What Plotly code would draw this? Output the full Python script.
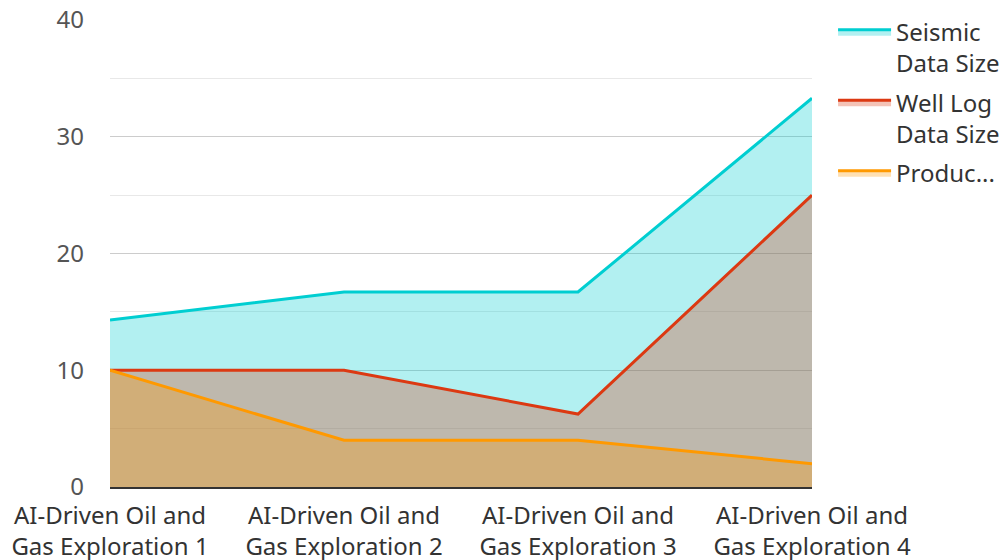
import plotly.graph_objects as go

categories = [
    "AI-Driven Oil and<br>Gas Exploration 1",
    "AI-Driven Oil and<br>Gas Exploration 2",
    "AI-Driven Oil and<br>Gas Exploration 3",
    "AI-Driven Oil and<br>Gas Exploration 4",
]
seismic = [14.3, 16.7, 16.7, 33.3]
well_log = [10, 10, 6.25, 25]
production = [10, 4, 4, 2]

series_names = ["Seismic<br>Data Size", "Well Log<br>Data Size", "Produc..."]
line_colors = ["#00CED1", "#DC3912", "#FF9900"]
fill_colors = ["rgba(0,206,209,0.3)", "rgba(220,57,18,0.3)", "rgba(255,153,0,0.3)"]

x = list(range(len(categories)))
fig = go.Figure()
for i, (name, vals, lc, fc) in enumerate(zip(series_names, [seismic, well_log, production], line_colors, fill_colors)):
    fig.add_trace(go.Scatter(
        x=x, y=vals, name=name, mode="lines", legendgroup=f"g{i}",
        line=dict(color=lc, width=3),
        fill="tozeroy", fillcolor=fc,
    ))

font_family = "Noto Sans"
fig.update_layout(
    width=1007, height=560,
    margin=dict(l=110, r=195, t=20, b=73, autoexpand=False),
    plot_bgcolor="white", paper_bgcolor="white",
    font=dict(family=font_family, size=24, color="#333333"),
    showlegend=True,
    legend=dict(
        x=1.03, y=1.022, xanchor="left", yanchor="top",
        font=dict(size=24, color="#333333"),
        valign="top", itemwidth=53, tracegroupgap=5,
        bgcolor="rgba(0,0,0,0)",
    ),
    xaxis=dict(
        range=[0, 3], tickvals=x, ticktext=categories,
        showgrid=False, zeroline=False, automargin=False,
        showline=True, linecolor="#333333", linewidth=2,
        ticks="", ticklabelstandoff=6,
        tickfont=dict(size=24, color="#333333"),
    ),
    yaxis=dict(
        range=[0, 40], tickvals=[0, 10, 20, 30, 40],
        showgrid=True, gridcolor="#cccccc", gridwidth=1,
        zeroline=False, showline=False, ticks="", automargin=False,
        ticklabelstandoff=25,
        tickfont=dict(size=24, color="#555555"),
        minor=dict(dtick=5, showgrid=True, gridcolor="#e8e8e8", gridwidth=1),
    ),
)

fig.write_html("out.html")
